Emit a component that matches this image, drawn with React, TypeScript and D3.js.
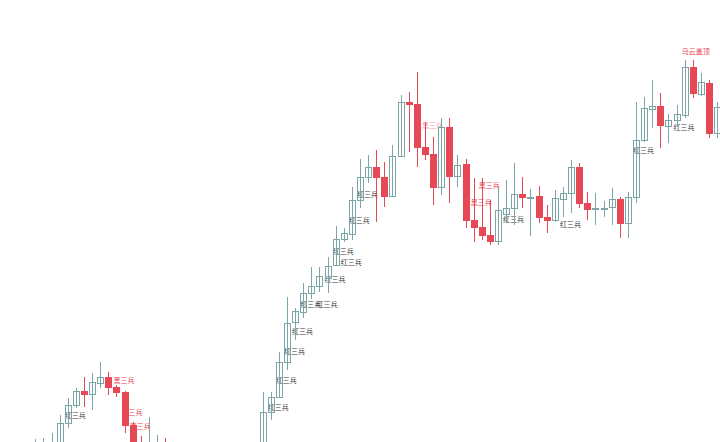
import React from "react";
import * as d3 from "d3";

const WIDTH = 720;
const HEIGHT = 442;

// candle values (one entry per trading day)
const OPEN = [
  2060, 2076, 2064, 2084, 2060, 2076, 2096, 2104, 2154, 2190,
  2218, 2212, 2234, 2246, 2226, 2216, 2150, 2090, 2060, 2070,
  2084, 2068, 2040, 2016, 2030, 2000, 2010, 2020, 2036, 2024,
  2050, 2064, 2076, 2176, 2206, 2276, 2356, 2376, 2414, 2428,
  2444, 2470, 2522, 2532, 2600, 2646, 2666, 2646, 2608, 2688,
  2796, 2792, 2706, 2692, 2626, 2746, 2648, 2672, 2560, 2546,
  2530, 2518, 2572, 2584, 2612, 2605, 2608, 2566, 2560, 2602,
  2614, 2666, 2594, 2583, 2584, 2586, 2602, 2554, 2606, 2720,
  2782, 2788, 2748, 2760, 2770, 2866, 2812, 2834, 2734,
];
const CLOSE = [
  2076, 2064, 2084, 2096, 2096, 2104, 2112, 2154, 2190, 2218,
  2212, 2236, 2246, 2226, 2216, 2150, 2090, 2060, 2100, 2096,
  2068, 2040, 2016, 2030, 2000, 2010, 2020, 2036, 2024, 2050,
  2064, 2076, 2176, 2206, 2276, 2354, 2378, 2414, 2428, 2448,
  2468, 2522, 2534, 2600, 2646, 2666, 2646, 2608, 2688, 2796,
  2792, 2706, 2692, 2626, 2746, 2648, 2670, 2560, 2546, 2530,
  2518, 2580, 2584, 2612, 2606, 2607, 2566, 2560, 2604, 2614,
  2666, 2594, 2582, 2584, 2585, 2602, 2554, 2606, 2720, 2784,
  2788, 2750, 2760, 2772, 2866, 2814, 2836, 2734, 2786,
];
const HIGH = [
  2090, 2100, 2104, 2110, 2122, 2124, 2134, 2170, 2204, 2224,
  2246, 2254, 2276, 2256, 2230, 2218, 2156, 2128, 2166, 2130,
  2124, 2080, 2056, 2044, 2040, 2024, 2036, 2060, 2050, 2070,
  2090, 2100, 2216, 2216, 2296, 2406, 2384, 2434, 2466, 2466,
  2486, 2548, 2544, 2626, 2682, 2690, 2700, 2676, 2710, 2810,
  2816, 2856, 2756, 2726, 2764, 2764, 2690, 2682, 2644, 2644,
  2600, 2626, 2640, 2674, 2646, 2622, 2628, 2590, 2620, 2626,
  2680, 2674, 2616, 2614, 2598, 2624, 2606, 2616, 2796, 2806,
  2840, 2814, 2772, 2790, 2880, 2880, 2854, 2840, 2796,
];
const LOW = [
  2044, 2050, 2056, 2070, 2044, 2064, 2080, 2096, 2144, 2184,
  2186, 2180, 2224, 2210, 2206, 2134, 2070, 2044, 2050, 2060,
  2050, 2024, 2000, 1990, 1980, 1976, 1990, 2004, 2010, 2016,
  2040, 2050, 2060, 2160, 2204, 2260, 2320, 2364, 2402, 2416,
  2414, 2468, 2516, 2520, 2584, 2634, 2556, 2586, 2606, 2686,
  2696, 2666, 2680, 2590, 2610, 2594, 2626, 2544, 2516, 2520,
  2510, 2510, 2554, 2550, 2584, 2528, 2554, 2534, 2556, 2566,
  2574, 2584, 2560, 2550, 2566, 2550, 2524, 2524, 2594, 2716,
  2744, 2704, 2714, 2746, 2764, 2804, 2808, 2724, 2724,
];

// pattern annotations: candle index, text, price level
const LABEL_INDEX = [8, 14, 15, 16, 33, 34, 35, 36, 37, 39, 40, 41, 42, 43, 44, 52, 58, 59, 62, 69, 78, 83, 84];
const LABEL_TEXT = [
  "红三兵", "黑三兵", "黑三兵", "黑三兵", "红三兵", "红三兵", "红三兵", "红三兵",
  "红三兵", "红三兵", "红三兵", "红三兵", "红三兵", "红三兵", "红三兵", "黑三兵",
  "黑三兵", "黑三兵", "红三兵", "红三兵", "红三兵", "红三兵", "乌云盖顶",
];
const LABEL_VALUE = [
  2168, 2238, 2174, 2146, 2184, 2238, 2296, 2336, 2390, 2390, 2440, 2496,
  2474, 2558, 2610, 2748, 2594, 2628, 2560, 2550, 2698, 2744, 2896,
];

const UP_COLOR = "#7ba6a8";
const DOWN_COLOR = "#e84855";
const TEXT_DARK = "#3a3a3a";

export default function App() {
  const idx = OPEN.map((_, i) => i);
  const x = d3.scaleBand<number>().domain(idx).range([0, WIDTH]).paddingInner(0.3).paddingOuter(0);
  const y = d3.scaleLinear().domain([2116, 3000]).range([HEIGHT, 0]);
  const bw = Math.round(x.bandwidth());
  const cx = (i: number) => (x(i) as number) + x.bandwidth() / 2;

  return (
    <svg
      width={WIDTH}
      height={HEIGHT}
      style={{ position: "absolute", left: 0, top: 0, display: "block", background: "#fff" }}
      fontFamily="'Noto Sans CJK SC', 'Noto Sans', sans-serif"
    >
      <g>
        {LABEL_INDEX.map((li, k) => {
          const isRed = LABEL_TEXT[k] !== "红三兵";
          return (
            <text
              key={"l" + k}
              x={cx(li) - 3}
              y={y(LABEL_VALUE[k])}
              dy="0.35em"
              fontSize={7}
              fill={isRed ? DOWN_COLOR : TEXT_DARK}
              opacity={li === 52 ? 0.55 : 1}
            >
              {LABEL_TEXT[k]}
            </text>
          );
        })}
      </g>
      <g>
        {idx.map((i) => {
          const o = OPEN[i];
          const c = CLOSE[i];
          const up = c >= o;
          const col = up ? UP_COLOR : DOWN_COLOR;
          const xc = Math.round(cx(i)) + 0.5;
          const top = Math.round(y(Math.max(o, c)));
          const bot = Math.round(y(Math.min(o, c)));
          const left = xc - bw / 2 - 0.5;
          const hgt = Math.max(1, bot - top);
          return (
            <g key={i}>
              <line x1={xc} x2={xc} y1={y(HIGH[i])} y2={y(LOW[i])} stroke={col} strokeWidth={1} />
              {up ? (
                <rect x={Math.round(left) + 0.5} y={top + 0.5} width={bw} height={hgt} fill="none" stroke={col} strokeWidth={1} />
              ) : (
                <rect x={Math.round(left)} y={top} width={bw + 1} height={hgt + 1} fill={col} />
              )}
            </g>
          );
        })}
      </g>
    </svg>
  );
}
